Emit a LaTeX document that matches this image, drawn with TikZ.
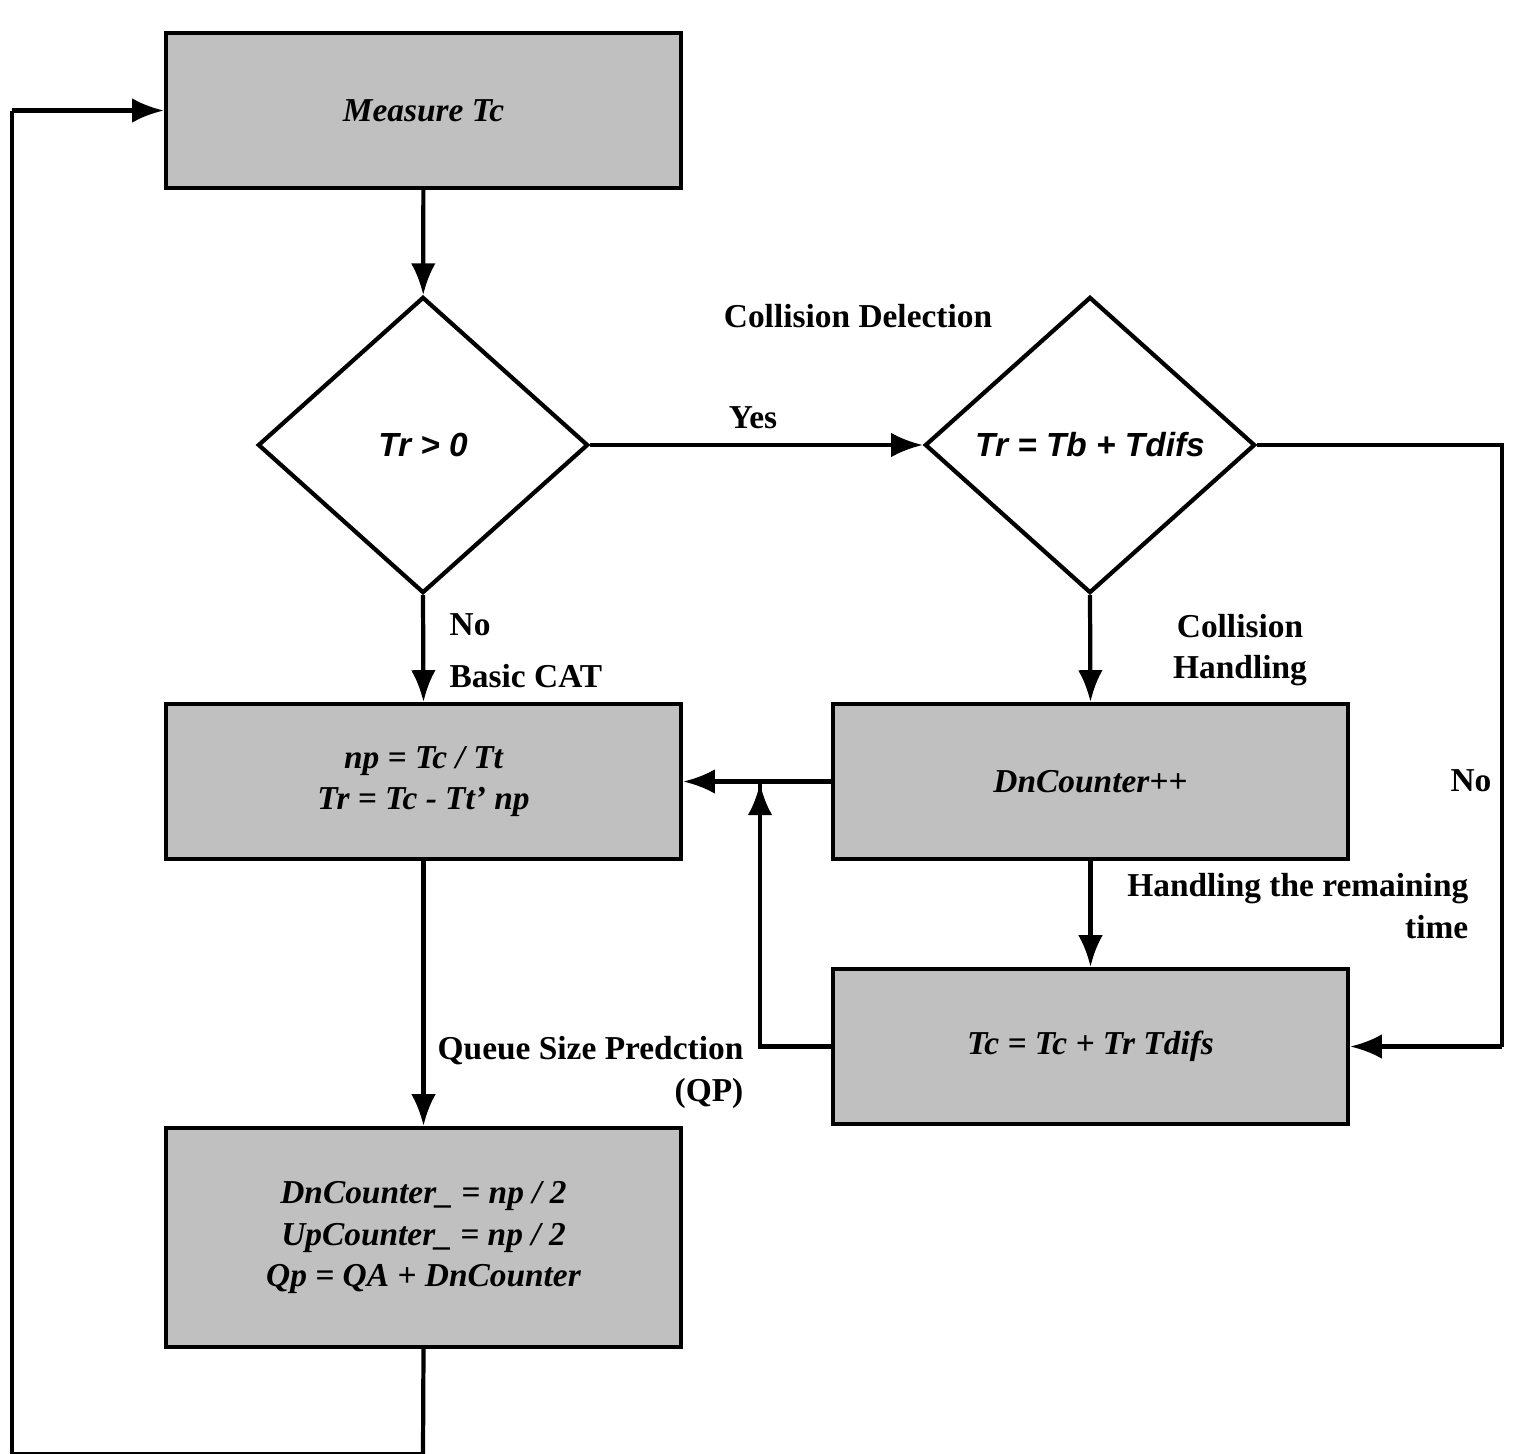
\documentclass[tikz,border=0pt]{standalone}
\usepackage{fontspec}
\setmainfont{Liberation Serif}
\newfontfamily\sansf{Liberation Sans}
\usetikzlibrary{shapes.geometric,arrows.meta}
\definecolor{boxgray}{RGB}{192,192,192}
\begin{document}
\begin{tikzpicture}[x=0.01cm,y=-0.01cm,
  every node/.style={font=\fontsize{9.5}{11.8}\selectfont\bfseries},
  box/.style={draw,fill=boxgray,line width=1.2pt,minimum width=5.15cm,minimum height=1.55cm,align=center,inner sep=0pt,font=\fontsize{9.5}{11.8}\selectfont\bfseries\itshape},
  dia/.style={draw,fill=white,diamond,line width=1.2pt,minimum width=3.3cm,minimum height=2.96cm,inner sep=0pt,aspect=1.1,font=\sansf\fontsize{9.5}{11}\selectfont\bfseries\itshape},
  lbl/.style={align=center,inner sep=0pt},
  arr/.style={line width=1.2pt,-{Latex[length=9pt,width=7pt]}},
  ln/.style={line width=1.2pt}]
\useasboundingbox (0,0) rectangle (1523,1454);
\node[box] (m) at (423.5,110.5) {Measure \textit{Tc}};
\node[box] (np) at (423.5,781.5) {np = Tc / Tt\\Tr = Tc - Tt' np};
\node[box] (dn) at (1090.5,781.5) {DnCounter++};
\node[box] (tc) at (1090.5,1046.5) {Tc = Tc + Tr Tdifs};
\node[box,minimum height=2.19cm] (q) at (423.5,1237.5) {DnCounter\_ = np / 2\\UpCounter\_ = np / 2\\Qp = QA + DnCounter};
\node[dia] (d1) at (423,445) {Tr > 0};
\node[dia] (d2) at (1090,445) {Tr = Tb + Tdifs};
\coordinate (b1) at (423,1454);
\coordinate (b2) at (12,1454);
\coordinate (b3) at (12,110.5);
\coordinate (r1) at (1502,445);
\coordinate (r2) at (1502,1046.5);
\coordinate (l1) at (760,1046.5);
\coordinate (l2) at (760,781.5);
\draw[arr] (m) -- (d1);
\draw[arr] (d1.east) -- (d2.west);
\draw[arr] (d1.south) -- (np.north);
\draw[arr] (d2.south) -- (dn.north);
\draw[arr] (dn.west) -- (np.east);
\draw[arr] (dn.south) -- (tc.north);
\draw[arr] (np.south) -- (q.north);
\draw[ln] (tc.west) -- (l1) -- (l2);
\draw[arr] (l1) -- ([yshift=-0.02cm]l2);
\draw[ln] (d2.east) -- (r1) -- (r2);
\draw[arr] (r2) -- (tc.east);
\draw[ln] (q.south) -- (b1);
\draw[ln] (b1) -- (b2) -- (b3);
\draw[arr] (b3) -- (m.west);
\node[lbl] at (858,316) {Collision Delection};
\node[lbl] at (753,418) {Yes};
\node[lbl,anchor=west] at (449,625) {No};
\node[lbl,anchor=west] at (449,676) {Basic CAT};
\node[lbl] at (1240,650) {Collision\\Handling};
\node[lbl] at (1471,781) {No};
\node[lbl,align=right,anchor=north east] at (1469,873) {Handling the remaining\\time};
\node[lbl,align=right,anchor=north east] at (744,1036) {Queue Size Predction\\(QP)};
\end{tikzpicture}
\end{document}
